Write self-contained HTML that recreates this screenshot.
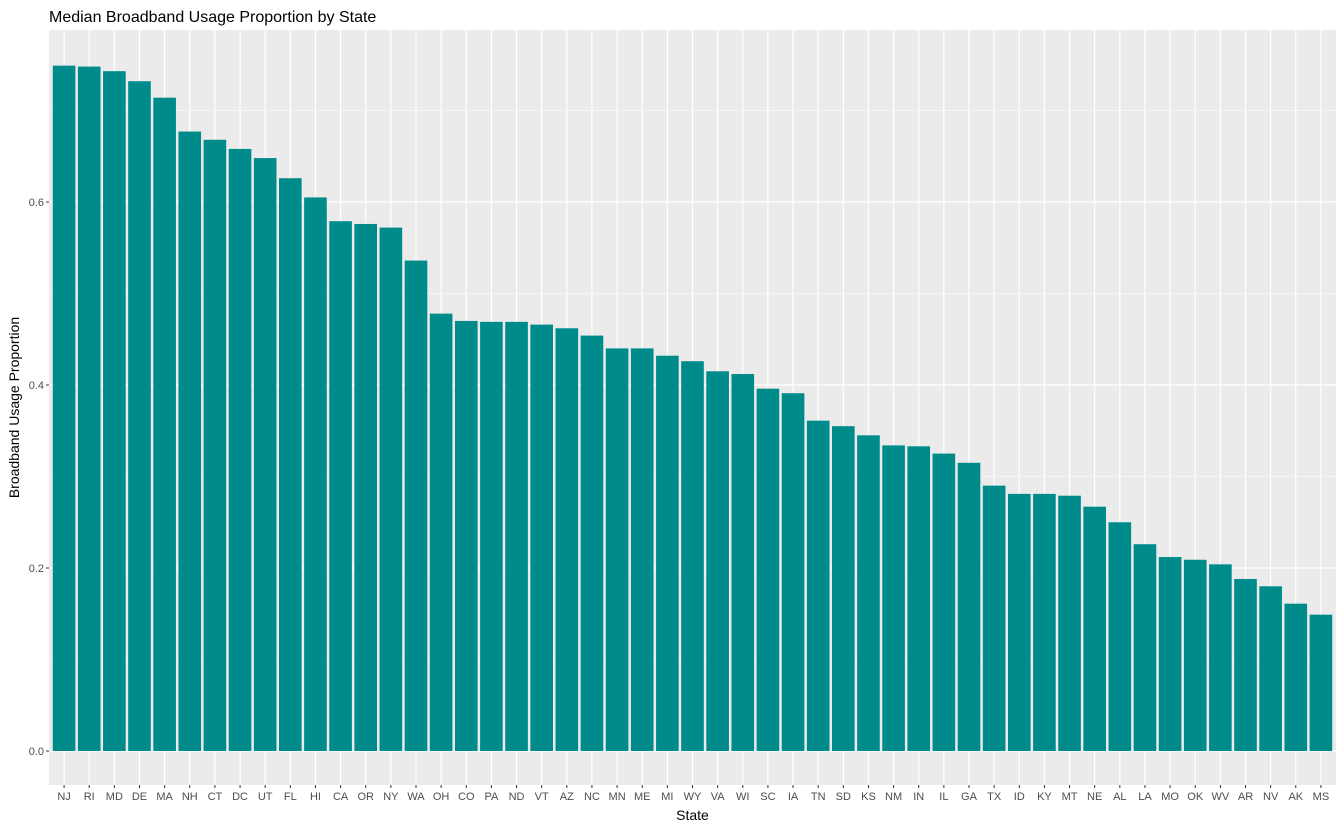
<!DOCTYPE html>
<html><head><meta charset="utf-8"><style>
body{margin:0;background:#fff;width:1344px;height:830px;overflow:hidden;font-family:"Liberation Sans",Arial,sans-serif}
</style></head><body>
<svg id="chart" width="1344" height="830" xmlns="http://www.w3.org/2000/svg" font-family="Liberation Sans, Arial, sans-serif"></svg>
<script>
const states=["NJ","RI","MD","DE","MA","NH","CT","DC","UT","FL","HI","CA","OR","NY","WA","OH","CO","PA","ND","VT","AZ","NC","MN","ME","MI","WY","VA","WI","SC","IA","TN","SD","KS","NM","IN","IL","GA","TX","ID","KY","MT","NE","AL","LA","MO","OK","WV","AR","NV","AK","MS"];
const values=[0.749,0.748,0.743,0.732,0.714,0.677,0.668,0.658,0.648,0.626,0.605,0.579,0.576,0.572,0.536,0.478,0.470,0.469,0.469,0.466,0.462,0.454,0.440,0.440,0.432,0.426,0.415,0.412,0.396,0.391,0.361,0.355,0.345,0.334,0.333,0.325,0.315,0.290,0.281,0.281,0.279,0.267,0.250,0.226,0.212,0.209,0.204,0.188,0.180,0.161,0.149];
const yTicks=[0,0.2,0.4,0.6];
const yTickLabels=["0.0","0.2","0.4","0.6"];
const yMinor=[0.1,0.3,0.5,0.7];

const svg=document.getElementById('chart');
const NS='http://www.w3.org/2000/svg';
const L=49,R=1336,T=30,B=785;
const step=(R-L)/(states.length+0.2);
const x=i=>L+step*(0.6+i);
const y=v=>751-v*915;
function mk(tag,attrs,parent){const e=document.createElementNS(NS,tag);for(const k in attrs)e.setAttribute(k,attrs[k]);(parent||svg).appendChild(e);return e;}

const panel=mk('rect',{x:L,y:T,width:R-L,height:B-T,fill:'#EBEBEB'});


yMinor.forEach(v=>{const l=mk('line',{x1:L,x2:R,y1:y(v),y2:y(v),stroke:'#fff','stroke-width':0.6});

});
yTicks.forEach((v,i)=>{const l=mk('line',{x1:L,x2:R,y1:y(v),y2:y(v),stroke:'#fff','stroke-width':1.2});


mk('line',{x1:L-3,x2:L,y1:y(v),y2:y(v),stroke:'#333','stroke-width':1});
const t=mk('text',{x:L-5,y:y(v)+4,'text-anchor':'end','font-size':11,fill:'#4D4D4D'});t.textContent=yTickLabels[i];

});
states.forEach((s,i)=>{const l=mk('line',{x1:x(i),x2:x(i),y1:T,y2:B,stroke:'#fff','stroke-width':1.2});

});
const bw=step*0.9;
states.forEach((s,i)=>{
const b=mk('rect',{x:x(i)-bw/2,y:y(values[i]),width:bw,height:y(0)-y(values[i]),fill:'#008B8B'});


mk('line',{x1:x(i),x2:x(i),y1:B,y2:B+3,stroke:'#333','stroke-width':1});
const t=mk('text',{x:x(i),y:B+15,'text-anchor':'middle','font-size':11,fill:'#4D4D4D'});t.textContent=s;

});
const title=mk('text',{x:L,y:22,'font-size':16,fill:'#000'});title.textContent='Median Broadband Usage Proportion by State';


const xt=mk('text',{x:(L+R)/2,y:820,'text-anchor':'middle','font-size':14,fill:'#000'});xt.textContent='State';


const yt=mk('text',{x:0,y:0,'text-anchor':'middle','font-size':14,fill:'#000',transform:'translate(19,'+((T+B)/2)+') rotate(-90)'});yt.textContent='Broadband Usage Proportion';


</script>
</body></html>
